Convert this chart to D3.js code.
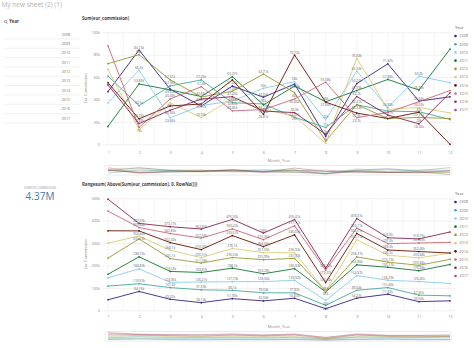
<!DOCTYPE html>
<html>
<head>
<meta charset="utf-8">
<script src="https://cdn.jsdelivr.net/npm/d3@7"></script>
<style>
body { margin: 0; background: #fff; }
svg text { font-family: "Open Sans", "Noto Sans", sans-serif; }
</style>
</head>
<body>
<svg id="sheet" width="474" height="348"></svg>
<script>
const months = ['1','2','3','4','5','6','7','8','9','10','11','12'];
const years = ['2008','2009','2010','2011','2012','2013','2014','2015','2016','2017'];
const yearColors = ['#332288','#44aa99','#88ccee','#117733','#999933','#ddcc77','#661100','#cc6677','#882255','#aa4499'];

// eur commission per month, in thousands
const com2008 = [47, 84.13, 49.22, 34.14, 51.99, 42.04, 53.83, 7, 54.22, 71.82, 38.54, 42.4];
const com2009 = [61, 34.5, 52.08, 57.45, 37.11, 36, 24.09, 15, 35.32, 29.64, 29.11, 22.2];
const com2010 = [37, 66.2, 23.66, 34.62, 38.63, 50, 56, 22, 65.33, 32.83, 60.8, 55];
const com2011 = [16, 53.89, 48.57, 42.66, 60.37, 35.24, 52, 38, 47.99, 57.88, 48.39, 85];
const com2012 = [72, 80, 57.57, 42.21, 47.43, 62.71, 46, 3, 35.41, 22.96, 24, 23];
const com2013 = [67, 13, 37, 23.93, 40.57, 31.54, 25, 1, 76.84, 31.17, 33, 28];
const com2014 = [55, 22.72, 34.24, 35.97, 57.47, 26.81, 79.73, 37.64, 27.9, 23, 28.62, 0];
const com2015 = [88, 15, 40.49, 51.4, 29.85, 31, 40.46, 55.58, 23.7, 28.5, 38.03, 48];
const com2016 = [53, 18.49, 30.34, 40.45, 42.5, 29.66, 28.3, 9, 42.7, 26.1, 18.26, 46];
const com2017 = [null, null, null, null, null, null, null, null, null, null, null, null];

const ticksSum = [0, 20, 40, 60, 80, 100];
const ticksRange = [0, 100, 200, 300, 400, 500];

const sheetTitle = 'My new sheet (2) (1)';
const kpiLabel = 'SUM(EUR_COMMISSION)';

const fmtK = v => (+v.toFixed(2)) + 'k';

// series for both charts
const commission = [com2008, com2009, com2010, com2011, com2012, com2013, com2014, com2015, com2016, com2017];
const seriesSum = years.map((y, i) => ({ year: y, color: yearColors[i], values: commission[i] }));
let running = months.map(() => 0);
const seriesRange = years.map((y, i) => ({
    year: y, color: yearColors[i],
    values: commission[i].map((v, j) => v == null ? null : Math.round((running[j] += v) * 100) / 100)
}));

const svg = d3.select('#sheet');

svg.append('text')
    .attr('x', 1.5).attr('y', 6.5)
    .attr('font-size', 6.5).attr('fill', '#b3b3b3')
    .text(sheetTitle);

// filter pane
const pane = svg.append('g');
pane.append('circle').attr('cx', 5.6).attr('cy', 21.6).attr('r', 1.2)
    .attr('fill', 'none').attr('stroke', '#555').attr('stroke-width', 0.5);
pane.append('line').attr('x1', 6.5).attr('y1', 22.5).attr('x2', 7.6).attr('y2', 23.6)
    .attr('stroke', '#555').attr('stroke-width', 0.6);
pane.append('text').attr('x', 9.2).attr('y', 23.3)
    .attr('font-size', 4.3).attr('font-weight', 'bold').attr('fill', '#404040').text('Year');
const rowY = d3.scaleBand().domain(years).range([29.6, 122.9]);
pane.selectAll('.item').data(years).join('text')
    .attr('x', 70).attr('y', d => rowY(d) + rowY.bandwidth() / 2 + 1.3)
    .attr('text-anchor', 'end').attr('font-size', 3.6).attr('fill', '#6e6e6e')
    .text(d => d);
pane.selectAll('.sep').data(years).join('line')
    .attr('x1', 4).attr('x2', 80)
    .attr('y1', d => rowY(d) + rowY.bandwidth()).attr('y2', d => rowY(d) + rowY.bandwidth())
    .attr('stroke', '#e3e3e3').attr('stroke-width', 0.5);

// KPI
const total = d3.sum(commission.flat().filter(v => v != null)) * 1000;
svg.append('text').attr('x', 40).attr('y', 189.2).attr('text-anchor', 'middle')
    .attr('font-size', 2.8).attr('fill', '#999').text(kpiLabel);
svg.append('text').attr('x', 40).attr('y', 200.4).attr('text-anchor', 'middle')
    .attr('font-size', 10).attr('fill', '#4477aa')
    .text(d3.format('.3s')(total));

class LineChart {

    constructor( config, series ) {
        this.config = {
            parent: config.parent,
            top: config.top || 0,
            title: config.title,
            ticks: config.ticks,
            tickPad: config.tickPad || 6,
            left: 103, right: 455,
            plotTop: 32.3, plotBottom: 144.3
        };
        this.series = series;
        this.init();
    }

    init() {
        let self = this;
        const c = self.config;

        self.g = c.parent.append('g')
            .attr('transform', `translate(0, ${c.top})`);

        self.xscale = d3.scalePoint()
            .domain(months)
            .range([c.left, c.right])
            .padding(0.16);

        self.yscale = d3.scaleLinear()
            .domain([0, d3.max(c.ticks)])
            .range([c.plotBottom, c.plotTop]);

        self.miniY = d3.scaleLinear()
            .domain([0, d3.max(c.ticks)])
            .range([174.3, 166.5]);

        self.yaxis = d3.axisLeft(self.yscale)
            .tickValues(c.ticks)
            .tickSize(-(c.right - c.left))
            .tickPadding(3)
            .tickFormat(d => d === 0 ? '0' : d + 'k');

        self.xaxis = d3.axisBottom(self.xscale)
            .tickSize(0)
            .tickPadding(c.tickPad);
    }

    render() {
        let self = this;
        const c = self.config;
        const g = self.g;

        g.append('text')
            .attr('x', 82).attr('y', 19.6)
            .attr('font-size', 4.3).attr('font-weight', 'bold').attr('fill', '#404040')
            .text(c.title);

        // vertical grid at ticks and between them
        const xs = months.map(m => self.xscale(m));
        const mids = xs.slice(1).map((x, i) => (x + xs[i]) / 2);
        g.selectAll('.vgrid').data(xs.concat(mids)).join('line')
            .attr('x1', d => d).attr('x2', d => d)
            .attr('y1', c.plotTop).attr('y2', c.plotBottom)
            .attr('stroke', '#ededed').attr('stroke-width', 0.5);

        const ya = g.append('g')
            .attr('transform', `translate(${c.left}, 0)`)
            .call(self.yaxis);
        ya.select('.domain').remove();
        ya.selectAll('line').attr('stroke', '#e3e3e3').attr('stroke-width', 0.5);
        ya.selectAll('text').attr('font-size', 3.8).attr('fill', '#888')
            .attr('font-family', '"Open Sans", sans-serif');

        const xa = g.append('g')
            .attr('transform', `translate(0, ${c.plotBottom})`)
            .call(self.xaxis);
        xa.select('.domain').remove();
        xa.selectAll('text').attr('font-size', 3.8).attr('fill', '#888')
            .attr('font-family', '"Open Sans", sans-serif');

        g.append('text')
            .attr('transform', `translate(86.5, ${(c.plotTop + c.plotBottom) / 2}) rotate(-90)`)
            .attr('text-anchor', 'middle').attr('font-size', 4).attr('fill', '#888')
            .text('Eur Commission');

        g.append('text')
            .attr('x', (c.left + c.right) / 2).attr('y', 162.4)
            .attr('text-anchor', 'middle').attr('font-size', 4).attr('fill', '#888')
            .text('Month, Year');

        // lines
        const line = d3.line()
            .defined(d => d != null)
            .x((d, i) => self.xscale(months[i]))
            .y(d => self.yscale(d));

        g.selectAll('.series').data(self.series).join('path')
            .attr('d', d => line(d.values))
            .attr('fill', 'none')
            .attr('stroke', d => d.color)
            .attr('stroke-width', 0.9);

        self.series.forEach(s => {
            g.selectAll(null).data(s.values.map((v, i) => ({ v, m: months[i] })).filter(d => d.v != null))
                .join('circle')
                .attr('cx', d => self.xscale(d.m))
                .attr('cy', d => self.yscale(d.v))
                .attr('r', 0.85)
                .attr('fill', s.color);
        });

        self.renderLabels();

        // mini chart
        g.append('rect')
            .attr('x', 105).attr('y', 165.5).attr('width', 346).attr('height', 9.6).attr('rx', 1)
            .attr('fill', '#fff').attr('stroke', '#d6d6d6').attr('stroke-width', 0.5);
        const mini = d3.line()
            .defined(d => d != null)
            .x((d, i) => self.xscale(months[i]))
            .y(d => self.miniY(d));
        g.selectAll('.mini').data(self.series).join('path')
            .attr('d', d => mini(d.values))
            .attr('fill', 'none')
            .attr('stroke', d => d.color)
            .attr('stroke-opacity', 0.6)
            .attr('stroke-width', 0.5);

        // legend
        g.append('text')
            .attr('x', 455).attr('y', 29.2)
            .attr('font-size', 4.2).attr('fill', '#666')
            .text('Year');
        const legY = d3.scalePoint().domain(years).range([36, 110]);
        const items = g.selectAll('.legend').data(self.series).join('g')
            .attr('transform', d => `translate(455.5, ${legY(d.year)})`);
        items.append('circle').attr('r', 1.3).attr('fill', d => d.color);
        items.append('text').attr('x', 3.8).attr('y', 1.35)
            .attr('font-size', 3.8).attr('fill', '#777')
            .text(d => d.year);
    }

    renderLabels() {
        let self = this;
        const c = self.config;
        const fs = 3.3;
        const placed = [];
        const hit = (a, b) => a.x < b.x + b.w && b.x < a.x + a.w && a.y < b.y + b.h && b.y < a.y + a.h;

        months.forEach((m, j) => {
            const pts = self.series
                .map(s => s.values[j])
                .filter(v => v != null)
                .sort((a, b) => b - a);
            pts.forEach(v => {
                const text = fmtK(v);
                const w = text.length * fs * 0.6 + 1.5, h = fs * 0.8 + 1.4;
                const x = self.xscale(m), y = self.yscale(v);
                const spots = [y - 0.8 - h, y + 0.8];
                for (const top of spots) {
                    const box = { x: x - w / 2, y: top, w: w, h: h };
                    if (x - 7 < c.left || x + 7 > c.right) continue;
                    if (top < c.plotTop - 4 || top + h > c.plotBottom + 1) continue;
                    if (placed.some(b => hit(b, box))) continue;
                    placed.push(box);
                    self.g.append('text')
                        .attr('x', x).attr('y', top + h - 0.7)
                        .attr('text-anchor', 'middle')
                        .attr('font-size', fs).attr('fill', '#666')
                        .text(text);
                    break;
                }
            });
        });
    }
}

const sumChart = new LineChart({
    parent: svg, top: 0, title: 'Sum(eur_commission)', ticks: ticksSum, tickPad: 7
}, seriesSum);
sumChart.render();

const rangeChart = new LineChart({
    parent: svg, top: 166, title: 'Rangesum( Above(Sum(eur_commission), 0, RowNo()))', ticks: ticksRange, tickPad: 5.2
}, seriesRange);
rangeChart.render();
</script>
</body>
</html>
